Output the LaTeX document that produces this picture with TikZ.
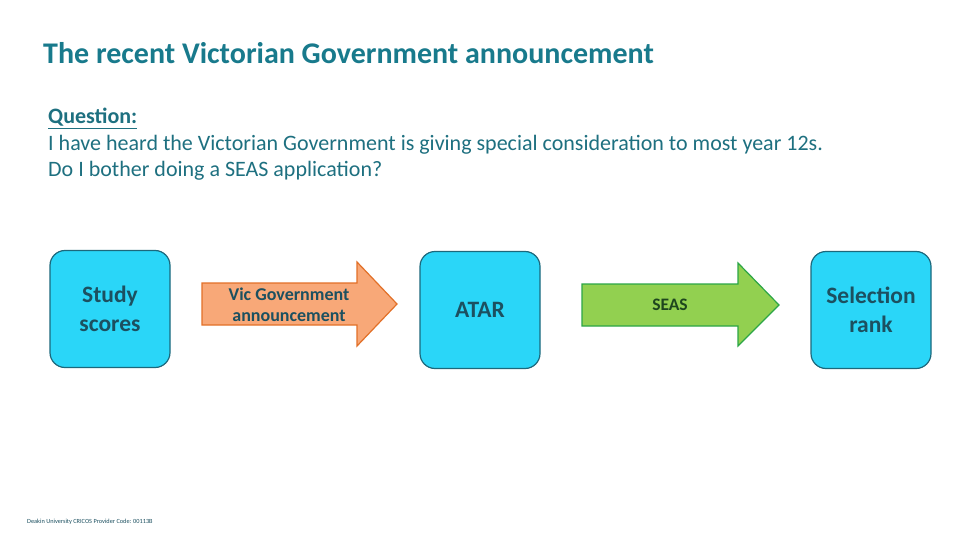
\documentclass[tikz,border=0pt]{standalone}
\usepackage{fontspec}
\setmainfont{Carlito}
\definecolor{titleteal}{RGB}{24,122,140}
\definecolor{bodyteal}{RGB}{30,112,128}
\definecolor{boxfill}{RGB}{42,214,248}
\definecolor{boxline}{RGB}{28,104,124}
\definecolor{boxtext}{RGB}{28,80,96}
\definecolor{orangefill}{RGB}{248,168,120}
\definecolor{orangeline}{RGB}{226,112,40}
\definecolor{greenfill}{RGB}{146,208,80}
\definecolor{greenline}{RGB}{44,166,70}
\definecolor{greentext}{RGB}{30,70,30}
\tikzset{
    scorebox/.style={draw=boxline, line width=1.2pt, fill=boxfill, rounded corners=15pt,
        minimum width=120pt, minimum height=117pt, align=center,
        text=boxtext, font=\fontsize{23.5}{29}\selectfont\bfseries},
    bodyline/.style={anchor=base west, inner sep=0pt, text=bodyteal,
        font=\fontsize{22}{26}\selectfont}
}
\begin{document}
\begin{tikzpicture}[x=1pt,y=-1pt]
    \useasboundingbox[fill=white] (0,0) rectangle (960,540);
    % heading and question
    \node[anchor=base west, inner sep=0pt, text=titleteal,
        font=\fontsize{30}{36}\selectfont\bfseries] (title) at (43,64)
        {The recent Victorian Government announcement};
    \node[bodyline, font=\fontsize{22}{26}\selectfont\bfseries] (question) at (48,124) {\underline{Question:}};
    \node[bodyline] (line1) at (48,151) {I have heard the Victorian Government is giving special consideration to most year 12s.};
    \node[bodyline] (line2) at (48,177) {Do I bother doing a SEAS application?};
    % boxes
    \node[scorebox] (study) at (110,309) {Study\\scores};
    \node[scorebox] (atar) at (480,310) {ATAR};
    \node[scorebox] (rank) at (871,310) {Selection\\rank};
    % arrows
    \draw[line width=1.2pt, draw=orangeline, fill=orangefill]
        (202,283) -- (357,283) -- (357,262) -- (397,304) -- (357,346)
        -- (357,325) -- (202,325) -- cycle;
    \node[align=center, font=\fontsize{18}{21}\selectfont\bfseries, text=boxtext]
        (vicgov) at (289,305) {Vic Government\\announcement};
    \draw[line width=1.2pt, draw=greenline, fill=greenfill]
        (582,284) -- (738,284) -- (738,263) -- (779,305) -- (738,346)
        -- (738,326) -- (582,326) -- cycle;
    \node[font=\fontsize{17.5}{21}\selectfont\bfseries, text=greentext]
        (seas) at (670,305) {SEAS};
    % footer
    \node[anchor=west, inner sep=0pt, font=\fontsize{6.3}{7}\selectfont, text=boxtext]
        (footer) at (27,522) {Deakin University CRICOS Provider Code: 00113B};
\end{tikzpicture}
\end{document}
